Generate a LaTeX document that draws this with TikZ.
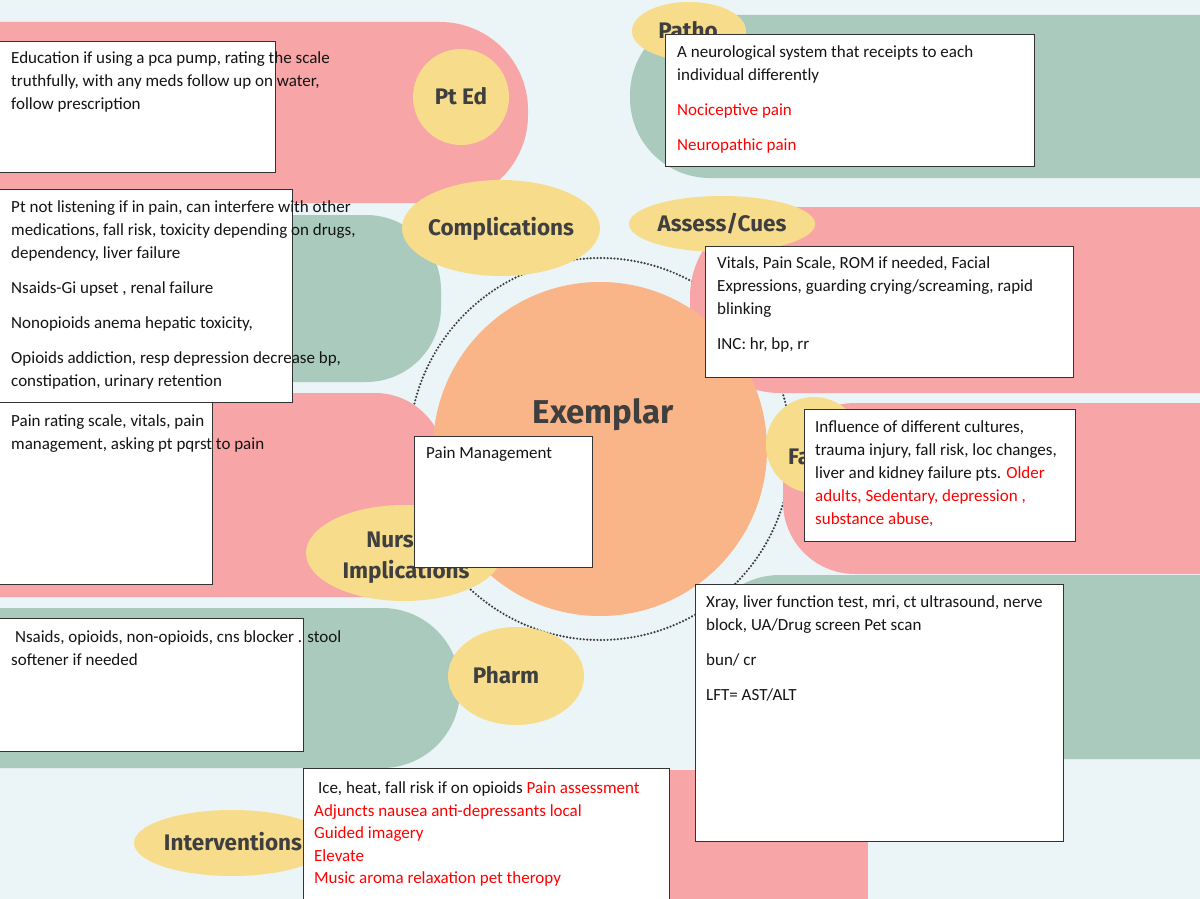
\documentclass[tikz,border=0pt]{standalone}
\usepackage{fontspec}
\setmainfont{Carlito}
\newfontfamily\tagfont{Fira Sans}
\usetikzlibrary{shapes.geometric,positioning}
\definecolor{bgc}{HTML}{EBF4F6}
\definecolor{pinkc}{HTML}{F7A5A6}
\definecolor{greenc}{HTML}{A9CABC}
\definecolor{yellowc}{HTML}{F7DD8B}
\definecolor{orangec}{HTML}{F9B588}
\definecolor{inkc}{HTML}{3F3F3F}
\definecolor{redc}{HTML}{FF0000}
\definecolor{linec}{HTML}{333333}
\newcommand{\rd}[1]{\textcolor{redc}{#1}}
\newcommand{\fl}[1][23.5pt]{\rule{0pt}{#1}}

\begin{document}
\begin{tikzpicture}[x=1pt,y=-1pt,
  tag/.style={ellipse,fill=yellowc,inner sep=0pt},
  tagtext/.style={font=\tagfont\bfseries\fontsize{22.5}{31}\selectfont,text=inkc,align=center,inner sep=0pt},
  infobox/.style={draw=linec,line width=1.2pt,fill=white,anchor=north west,inner sep=0pt},
  infotext/.style={anchor=north west,inner sep=0pt,align=left,font=\fontsize{17}{23}\selectfont,text=black!92}]
\useasboundingbox (0,0) rectangle (1200,899);
\clip (0,0) rectangle (1200,899);
\fill[bgc] (0,0) rectangle (1200,899);
\draw[linec!95,line width=2.4pt,line cap=round,dash pattern=on 0pt off 3.4pt] (600,449) circle (191pt);

\fill[pinkc,rounded corners=88pt] (-100,22) rectangle (528,203);
\fill[greenc,rounded corners=75pt] (-100,215) rectangle (441,382);
\fill[pinkc,rounded corners=70pt] (-100,393) rectangle (445,597);
\fill[greenc,rounded corners=78pt] (-100,608) rectangle (460,768);
\fill[pinkc] (460,770) rectangle (868,950);
\fill[greenc,rounded corners=80pt] (630,15) rectangle (1300,178);
\fill[pinkc,rounded corners=90pt] (690,207) rectangle (1300,393);
\fill[pinkc,rounded corners=72pt] (783,403) rectangle (1300,574);
\fill[greenc,rounded corners=80pt] (700,575) rectangle (1300,759);

\node[circle,fill=orangec,minimum size=334pt,inner sep=0pt] (exemplar) at (600,449) {};

\node[tag,minimum width=96pt,minimum height=96pt] (pted) at (461,97) {};
\node[tag,minimum width=198pt,minimum height=96pt] (compl) at (501,228) {};
\node[tag,minimum width=196pt,minimum height=96pt] (nursing) at (404,553) {};
\node[tag,minimum width=136pt,minimum height=98pt] (pharm) at (516,676) {};
\node[tag,minimum width=196pt,minimum height=66pt] (interv) at (232,843) {};
\node[tag,minimum width=114pt,minimum height=58pt] (patho) at (689,31) {};
\node[tag,minimum width=186pt,minimum height=56pt] (assess) at (722,224) {};
\node[tag,minimum width=96pt,minimum height=96pt] (factors) at (814,445) {};

\node[tagtext,text height=15.5pt,text depth=0pt] (ptedlbl) at (461,97) {Pt Ed};
\node[tagtext,text height=15.5pt,text depth=0pt] (compllbl) at (501,228) {Complications};
\node[tagtext] (nursinglbl) at (406,556) {Nursing\\Implications};
\node[tagtext,text height=15.5pt,text depth=0pt] (pharmlbl) at (506,676) {Pharm};
\node[tagtext,text height=15.5pt,text depth=0pt] (intervlbl) at (233,843) {Interventions};
\node[tagtext,text height=15.5pt,text depth=0pt] (patholbl) at (688,31) {Patho};
\node[tagtext,text height=15.5pt,text depth=0pt] (assesslbl) at (722,224) {Assess/Cues};
\node[tagtext,text height=15.5pt,text depth=0pt,anchor=west] (factorslbl) at (788,457) {Factors};
\node[tagtext,font=\tagfont\bfseries\fontsize{33}{38}\selectfont,text height=23pt,text depth=0pt] (exlbl) at (603,412) {Exemplar};

\node[infobox,minimum width=277pt,minimum height=131pt] (edbox) at (-2,41) {};
\node[infotext,below right=0pt and 13pt of edbox.north west] (edtext) {\fl[22.5pt]Education if using a pca pump, rating the scale\\
truthfully, with any meds follow up on water,\\
follow prescription};

\node[infobox,minimum width=294pt,minimum height=213pt] (complbox) at (-2,189) {};
\node[infotext,below right=0pt and 13pt of complbox.north west] (compltext) {\fl Pt not listening if in pain, can interfere with other\\
medications, fall risk, toxicity depending on drugs,\\
dependency, liver failure\\[12pt]
Nsaids-Gi upset , renal failure\\[12pt]
Nonopioids anema hepatic toxicity,\\[12pt]
Opioids addiction, resp depression decrease bp,\\
constipation, urinary retention};

\node[infobox,minimum width=214pt,minimum height=182pt] (ratebox) at (-2,402) {};
\node[infotext,below right=0pt and 13pt of ratebox.north west] (ratetext) {\fl[24.5pt]Pain rating scale, vitals, pain\\
management, asking pt pqrst to pain};

\node[infobox,minimum width=305pt,minimum height=133pt] (pharmbox) at (-2,618) {};
\node[infotext,below right=0pt and 13pt of pharmbox.north west] (pharmtext) {\fl[24.5pt]\ Nsaids, opioids, non-opioids, cns blocker . stool\\
softener if needed};

\node[infobox,minimum width=366pt,minimum height=140pt] (intervbox) at (303,768) {};
\node[infotext,below right=0pt and 11pt of intervbox.north west] (intervtext) {\fl[25.5pt]\ Ice, heat, fall risk if on opioids \rd{Pain assessment}\\[-0.5pt]
\rd{Adjuncts nausea anti-depressants local}\\[-0.5pt]
\rd{Guided imagery}\\[-0.5pt]
\rd{Elevate}\\[-0.5pt]
\rd{Music aroma relaxation pet theropy}};

\node[infobox,minimum width=178pt,minimum height=131pt] (mgmtbox) at (414,436) {};
\node[infotext,below right=0pt and 12pt of mgmtbox.north west] (mgmttext) {\fl[22pt]Pain Management};

\node[infobox,minimum width=369pt,minimum height=132pt] (pathobox) at (665,34) {};
\node[infotext,below right=0pt and 12pt of pathobox.north west] (pathotext) {\fl A neurological system that receipts to each\\
individual differently\\[12pt]
\rd{Nociceptive pain}\\[12pt]
\rd{Neuropathic pain}};

\node[infobox,minimum width=368pt,minimum height=131pt] (assessbox) at (705,246) {};
\node[infotext,below right=0pt and 12pt of assessbox.north west] (assesstext) {\fl[22.5pt]Vitals, Pain Scale, ROM if needed, Facial\\
Expressions, guarding crying/screaming, rapid\\
blinking\\[12pt]
INC: hr, bp, rr};

\node[infobox,minimum width=271pt,minimum height=132pt] (factorsbox) at (804,409) {};
\node[infotext,below right=0pt and 11pt of factorsbox.north west] (factorstext) {\fl Influence of different cultures,\\
trauma injury, fall risk, loc changes,\\
liver and kidney failure pts. \rd{Older}\\
\rd{adults, Sedentary, depression ,}\\
\rd{substance abuse,}};

\node[infobox,minimum width=368pt,minimum height=257pt] (diagbox) at (695,584) {};
\node[infotext,below right=0pt and 11pt of diagbox.north west] (diagtext) {\fl Xray, liver function test, mri, ct ultrasound, nerve\\
block, UA/Drug screen Pet scan\\[12pt]
bun/ cr\\[12pt]
LFT= AST/ALT};
\end{tikzpicture}
\end{document}
